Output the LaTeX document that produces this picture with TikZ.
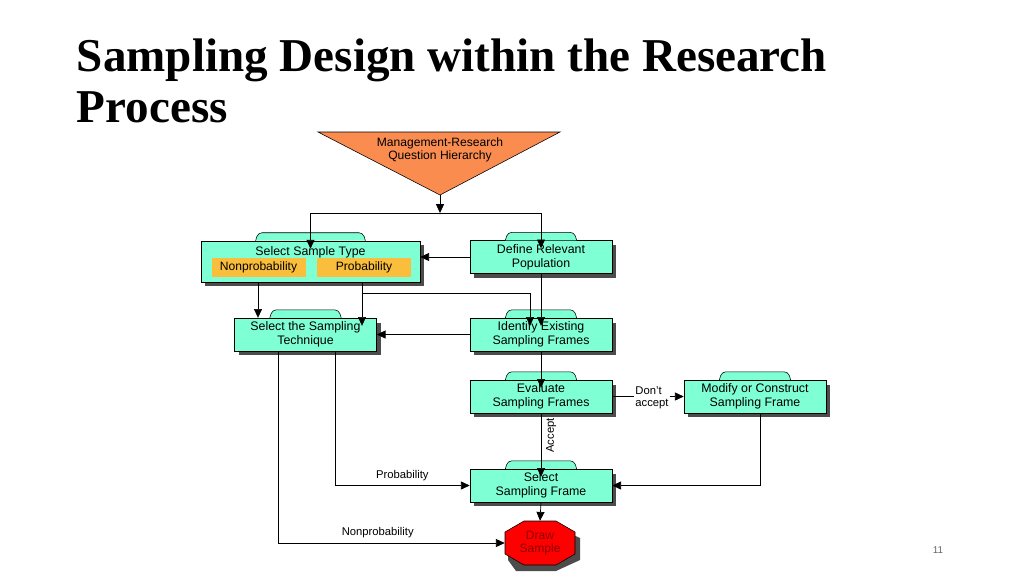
\documentclass[tikz,border=0pt]{standalone}
\usepackage{fontspec}
\setmainfont{Liberation Serif}
\setsansfont{Liberation Sans}
\usetikzlibrary{shadows,calc,arrows.meta}
\definecolor{boxcyan}{RGB}{127,255,212}
\definecolor{taborange}{RGB}{250,190,60}
\definecolor{tri}{RGB}{250,140,80}
\tikzset{
  stage/.style={draw, fill=boxcyan, font=\sffamily\fontsize{8.8}{10}\selectfont, align=center,
    minimum width=35.5mm, minimum height=8.2mm, inner sep=1pt,
    drop shadow={shadow xshift=1.1mm, shadow yshift=-1.1mm, fill=black!70, opacity=1}},
  kind/.style={fill=taborange, font=\sffamily\fontsize{8.6}{9}\selectfont, minimum width=23.5mm, minimum height=4.6mm, inner sep=0pt},
  flow/.style={-{Triangle[length=2.2mm,width=2mm]}, line width=0.5pt},
  intab/.style={flow, shorten >=-2mm},
  lbl/.style={font=\sffamily\fontsize{8}{8.5}\selectfont}
}
\newcommand{\foldertab}[1]{%
  \draw[fill=boxcyan, rounded corners=1mm]
    ($(#1.north west)!0.25!(#1.north east)$) -- ++(0.6mm,2mm)
    -- ($($(#1.north west)!0.75!(#1.north east)$)+(-0.6mm,2mm)$)
    -- ($(#1.north west)!0.75!(#1.north east)$);}
\begin{document}
\begin{tikzpicture}[x=0.25mm,y=-0.25mm]
\useasboundingbox (0,0) rectangle (1024,576);
% title
\node[anchor=north west, align=left, font=\bfseries\fontsize{33.5}{36}\selectfont] (title) at (72,34)
  {Sampling Design within the Research\\Process};
% top triangle
\draw[fill=tri] (318,132) -- (560,132) -- (440,195) -- cycle;
\node[font=\sffamily\fontsize{8.6}{9.5}\selectfont, align=center] (mrq) at (440,150) {Management-Research\\Question Hierarchy};
\coordinate (apex) at (440,195);
% boxes
\node[stage, minimum width=54.75mm, minimum height=10.25mm, text depth=5mm] (type) at (310.5,261.5) {Select Sample Type};
\node[kind] (nonp) at (258.5,267.5) {Nonprobability};
\node[kind] (prob) at (364,267.5) {Probability};
\node[stage] (pop) at (541,257) {Define Relevant\\Population};
\node[stage] (tech) at (305.5,334.5) {Select the Sampling\\Technique};
\node[stage] (ident) at (541,334.5) {Identify Existing\\Sampling Frames};
\node[stage] (eval) at (541,396.5) {Evaluate\\Sampling Frames};
\node[stage] (mod) at (755,396.5) {Modify or Construct\\Sampling Frame};
\node[stage] (sel) at (541,485.5) {Select\\Sampling Frame};
% octagon
\fill[black!70] (516,527) -- (556,527) -- (580,538) -- (580,560) -- (556,571) -- (516,571) -- (508,560) -- (508,538) -- cycle;
\draw[fill=red] (524,521) -- (556,521) -- (575,532) -- (575,554) -- (556,565) -- (524,565) -- (505,554) -- (505,532) -- cycle;
\node[minimum width=17.5mm, minimum height=11mm, inner sep=0pt, align=center,
  text=red!55!black, font=\sffamily\fontsize{8.6}{9.5}\selectfont] (sample) at (540,543) {Draw\\Sample};
\foreach \n in {type,pop,tech,ident,eval,mod,sel} {\foldertab{\n}}
% connectors
\coordinate (split) at (440,213);
\coordinate (nonpx) at (258,0);
\coordinate (probx) at (362,0);
\coordinate (frkx) at (530,0);
\coordinate (modx) at (760,0);
\coordinate (px) at (335,0);
\coordinate (nx) at (278,0);
\coordinate (popy) at (0,257);
\coordinate (fork) at (362,293);
\draw[flow] (apex) -- (split);
\draw[intab] (split) -| (type.north);
\draw[intab] (split) -| (pop.north);
\draw[flow] (pop.west |- popy) -- (type.east |- popy);
\draw[intab] (pop.south) -- (ident.north);
\draw[flow] (type.south -| nonpx) -- (tech.north -| nonpx);
\draw[intab] (type.south -| probx) -- (tech.north -| probx);
\draw[intab] (fork) -| (ident.north -| frkx);
\draw[flow] (ident.west) -- (tech.east);
\draw[intab] (ident.south) -- (eval.north);
\draw[flow] (eval.east) -- node[lbl, above, align=left, yshift=-3.5mm, xshift=1mm, fill=white, inner sep=1pt] {Don't\\accept} (mod.west);
\draw[intab] (eval.south) -- node[lbl, rotate=90, anchor=north, pos=0.4] {Accept} (sel.north);
\draw[flow] (mod.south -| modx) |- (sel.east);
\draw[flow] (tech.south -| px) |- node[lbl, pos=0.75, above] {Probability} (sel.west);
\draw[flow] (tech.south -| nx) |- node[lbl, pos=0.72, above] {Nonprobability} (sample.west);
\draw[flow] (sel.south) -- (sample.north);
\node[font=\sffamily\fontsize{7}{8}\selectfont, text=black!60] (page) at (938,550) {11};
\end{tikzpicture}
\end{document}
